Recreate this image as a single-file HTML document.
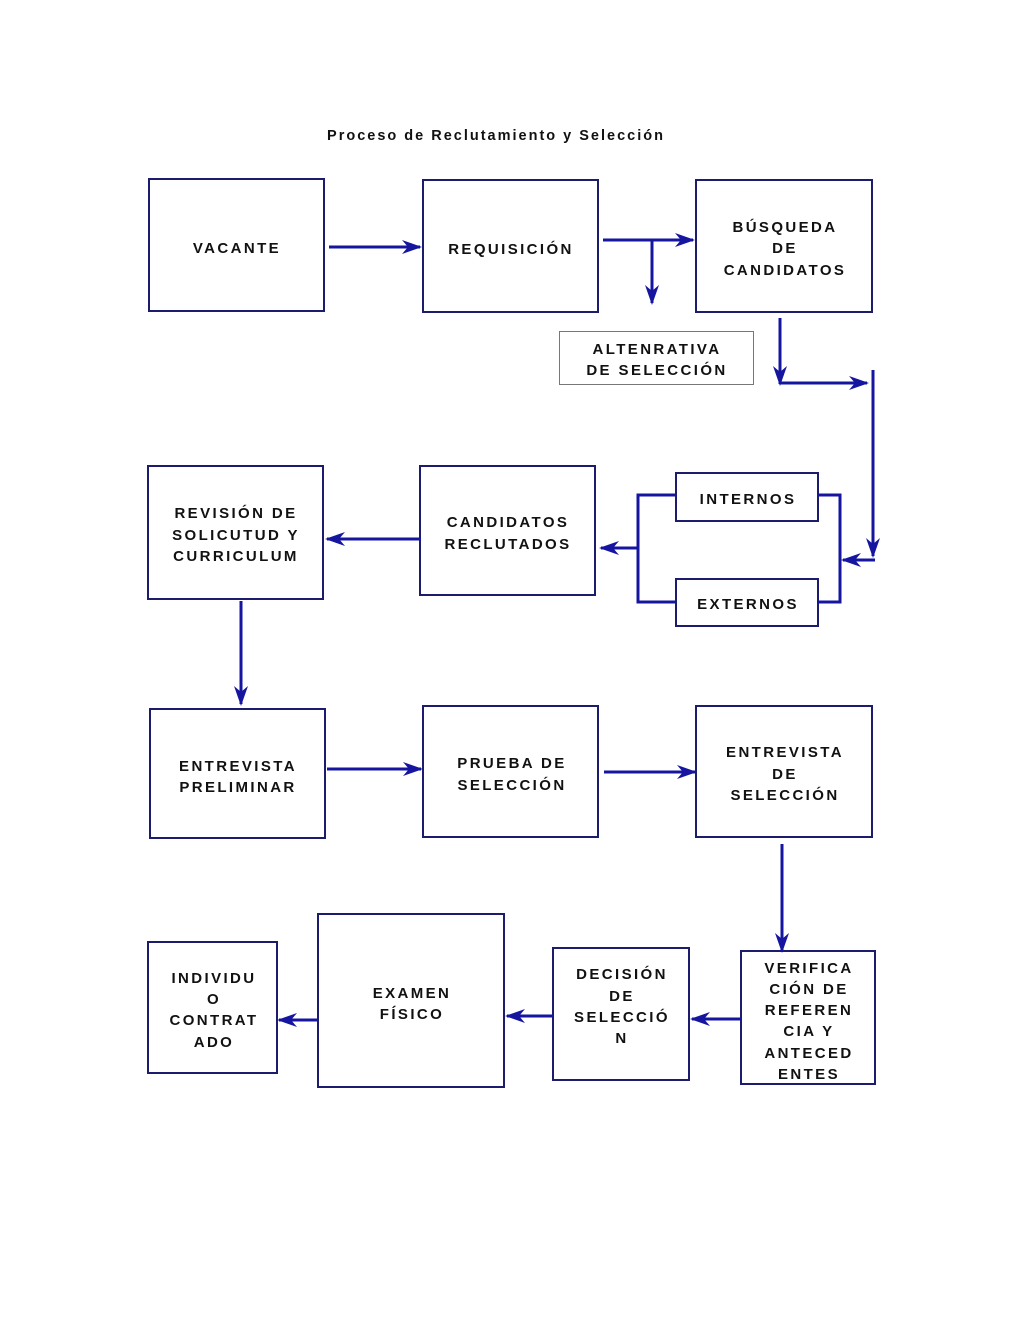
<!DOCTYPE html>
<html><head><meta charset="utf-8"><style>
html,body{margin:0;padding:0;background:#fff}
svg{display:block}
text{font-family:"Liberation Sans",Arial,sans-serif;font-weight:bold;font-size:15px;letter-spacing:2.4px;fill:#111;text-anchor:middle}
.b{fill:#fff;stroke:#1c1c6e;stroke-width:2}
.a{stroke:#1515a0;stroke-width:3;fill:none}
</style></head><body>
<svg width="1024" height="1326" viewBox="0 0 1024 1326" xmlns="http://www.w3.org/2000/svg">
<defs>
<marker id="m" viewBox="0 0 20 14" refX="18" refY="7" markerWidth="20" markerHeight="14" markerUnits="userSpaceOnUse" orient="auto">
<path d="M0,0 L20,7 L0,14 L6,7 Z" fill="#1515a0"/>
</marker>
</defs>
<text x="496" y="140" style="font-size:14.5px;letter-spacing:2px">Proceso de Reclutamiento y Selección</text>

<rect class="b" x="149" y="179" width="175" height="132"/>
<rect class="b" x="423" y="180" width="175" height="132"/>
<rect class="b" x="696" y="180" width="176" height="132"/>
<rect x="559.5" y="331.5" width="194" height="53" fill="#fff" stroke="#777" stroke-width="1"/>
<rect class="b" x="676" y="473" width="142" height="48"/>
<rect class="b" x="676" y="579" width="142" height="47"/>
<rect class="b" x="420" y="466" width="175" height="129"/>
<rect class="b" x="148" y="466" width="175" height="133"/>
<rect class="b" x="150" y="709" width="175" height="129"/>
<rect class="b" x="423" y="706" width="175" height="131"/>
<rect class="b" x="696" y="706" width="176" height="131"/>
<rect class="b" x="741" y="951" width="134" height="133"/>
<rect class="b" x="553" y="948" width="136" height="132"/>
<rect class="b" x="318" y="914" width="186" height="173"/>
<rect class="b" x="148" y="942" width="129" height="131"/>

<line class="a" x1="329" y1="247" x2="420" y2="247" marker-end="url(#m)"/>
<line class="a" x1="603" y1="240" x2="693" y2="240" marker-end="url(#m)"/>
<line class="a" x1="652" y1="240" x2="652" y2="303" marker-end="url(#m)"/>
<line class="a" x1="780" y1="318" x2="780" y2="384" marker-end="url(#m)"/>
<line class="a" x1="780" y1="383" x2="867" y2="383" marker-end="url(#m)"/>
<line class="a" x1="873" y1="370" x2="873" y2="556" marker-end="url(#m)"/>
<line class="a" x1="875" y1="560" x2="843" y2="560" marker-end="url(#m)"/>
<polyline class="a" points="818,495 840,495 840,602 818,602"/>
<polyline class="a" points="676,495 638,495 638,602 676,602"/>
<line class="a" x1="638" y1="548" x2="601" y2="548" marker-end="url(#m)"/>
<line class="a" x1="421" y1="539" x2="327" y2="539" marker-end="url(#m)"/>
<line class="a" x1="241" y1="601" x2="241" y2="704" marker-end="url(#m)"/>
<line class="a" x1="327" y1="769" x2="421" y2="769" marker-end="url(#m)"/>
<line class="a" x1="604" y1="772" x2="695" y2="772" marker-end="url(#m)"/>
<line class="a" x1="782" y1="844" x2="782" y2="951" marker-end="url(#m)"/>
<line class="a" x1="741" y1="1019" x2="692" y2="1019" marker-end="url(#m)"/>
<line class="a" x1="553" y1="1016" x2="507" y2="1016" marker-end="url(#m)"/>
<line class="a" x1="318" y1="1020" x2="279" y2="1020" marker-end="url(#m)"/>

<text x="237" y="253">VACANTE</text>
<text x="511" y="254">REQUISICIÓN</text>
<text x="785" y="232">BÚSQUEDA</text>
<text x="785" y="253">DE</text>
<text x="785" y="275">CANDIDATOS</text>
<text x="657" y="354">ALTENRATIVA</text>
<text x="657" y="375">DE SELECCIÓN</text>
<text x="748" y="504">INTERNOS</text>
<text x="748" y="609">EXTERNOS</text>
<text x="508" y="527">CANDIDATOS</text>
<text x="508" y="549">RECLUTADOS</text>
<text x="236" y="518">REVISIÓN DE</text>
<text x="236" y="540">SOLICUTUD Y</text>
<text x="236" y="561">CURRICULUM</text>
<text x="238" y="771">ENTREVISTA</text>
<text x="238" y="792">PRELIMINAR</text>
<text x="512" y="768">PRUEBA DE</text>
<text x="512" y="790">SELECCIÓN</text>
<text x="785" y="757">ENTREVISTA</text>
<text x="785" y="779">DE</text>
<text x="785" y="800">SELECCIÓN</text>
<text x="809" y="973">VERIFICA</text>
<text x="809" y="994">CIÓN DE</text>
<text x="809" y="1015">REFEREN</text>
<text x="809" y="1036">CIA Y</text>
<text x="809" y="1058">ANTECED</text>
<text x="809" y="1079">ENTES</text>
<text x="622" y="979">DECISIÓN</text>
<text x="622" y="1001">DE</text>
<text x="622" y="1022">SELECCIÓ</text>
<text x="622" y="1043">N</text>
<text x="412" y="998">EXAMEN</text>
<text x="412" y="1019">FÍSICO</text>
<text x="214" y="983">INDIVIDU</text>
<text x="214" y="1004">O</text>
<text x="214" y="1025">CONTRAT</text>
<text x="214" y="1047">ADO</text>
</svg>
</body></html>
